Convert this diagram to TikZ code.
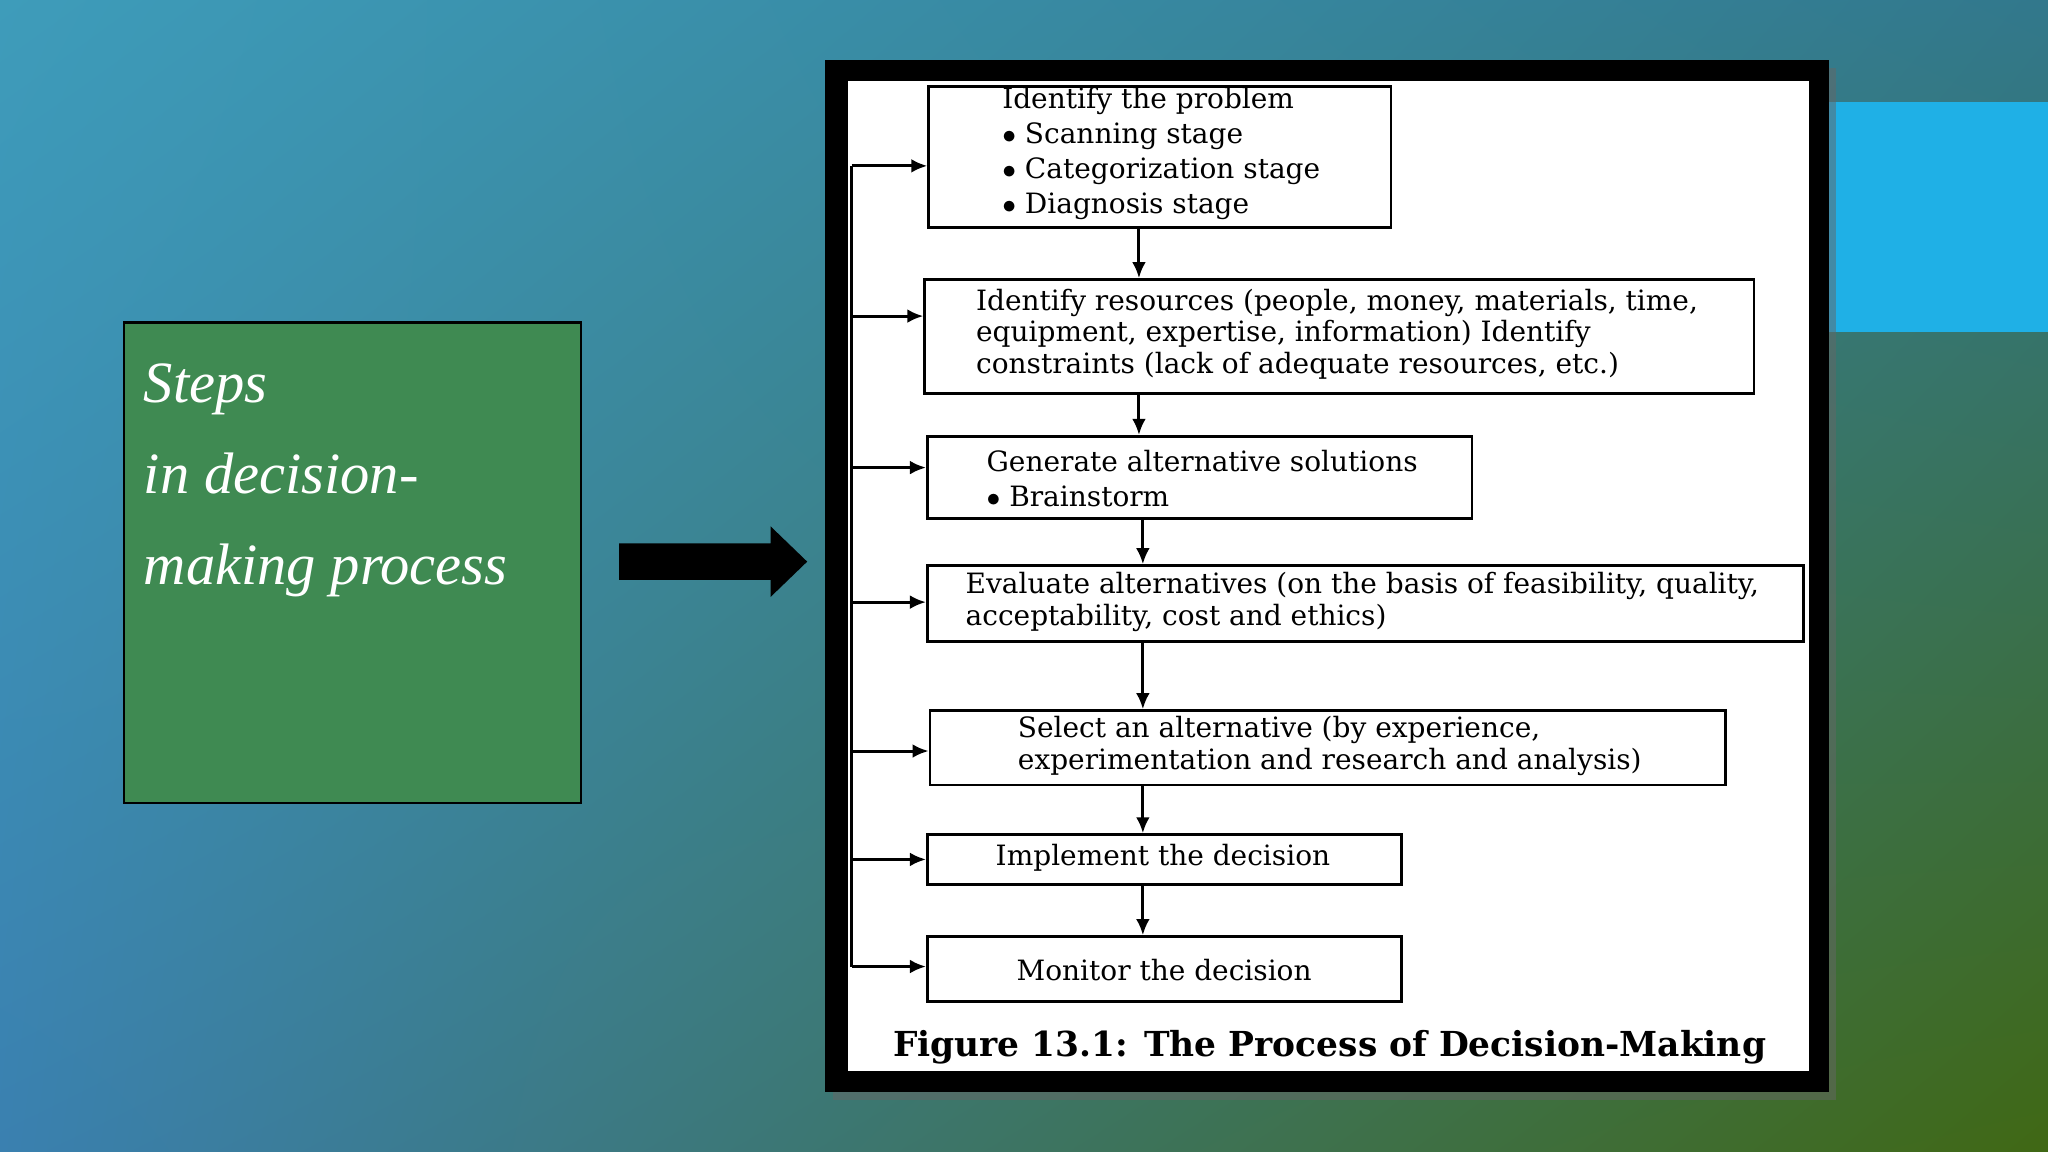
\documentclass[tikz,border=0pt]{standalone}
\usepackage{fontspec}
\setmainfont{DejaVu Serif}
\newfontfamily\stepsfont{Liberation Serif}
\usetikzlibrary{arrows.meta,shadings}
\definecolor{cyanbox}{HTML}{1FB0E6}
\definecolor{gbox}{HTML}{3F8A52}
\definecolor{cul}{RGB}{62,156,186}
\definecolor{cur}{RGB}{50,120,140}
\definecolor{cll}{RGB}{58,128,176}
\definecolor{clr}{RGB}{64,104,20}
\begin{document}
\begin{tikzpicture}[x=0.02cm,y=-0.02cm,
 box/.style={draw=black,line width=1.2pt,fill=white,anchor=north west,inner sep=0pt},
 txt/.style={anchor=west,inner sep=0pt,font=\fontsize{12.2}{14}\selectfont},
 arr/.style={line width=1.3pt,-{Latex[length=7pt,width=6pt]}}]
\useasboundingbox (0,0) rectangle (1568,882);
\shade[upper left=cul,upper right=cur,lower left=cll,lower right=clr] (0,0) rectangle (1568,882);
\fill[cyanbox] (1400,78) rectangle (1568,254);
% left panel
\node[draw=black,line width=1pt,fill=gbox,minimum width=7cm,minimum height=7.36cm,anchor=north west] (gb) at (94,246) {};
\node[anchor=north west,text=white,align=left,font=\stepsfont\fontsize{25.5}{39.7}\selectfont\itshape] (steps) at (104,272) {Steps\\in decision-\\making process};
% big arrow
\fill[black] (474,416) -- (590,416) -- (590,403) -- (618,430) -- (590,457) -- (590,444) -- (474,444) -- cycle;
% frame
\fill[black!60,opacity=0.5] (638,52) rectangle (1406,842);
\fill[black] (632,46) rectangle (1400,836);
\fill[white] (649,62) rectangle (1385,820);
% boxes
\node[box,minimum width=7.08cm,minimum height=2.16cm] (b1) at (710,65) {};
\node[box,minimum width=12.7cm,minimum height=1.74cm] (b2) at (707,213) {};
\node[box,minimum width=8.34cm,minimum height=1.26cm] (b3) at (709,333) {};
\node[box,minimum width=13.42cm,minimum height=1.16cm] (b4) at (709,432) {};
\node[box,minimum width=12.18cm,minimum height=1.14cm] (b5) at (711,543) {};
\node[box,minimum width=7.26cm,minimum height=0.76cm] (b6) at (709,638) {};
\node[box,minimum width=7.26cm,minimum height=1.0cm] (b7) at (709,716) {};
% texts
\node[txt] (t1a) at (767,77) {Identify the problem};
\node[txt] (t1b) at (767,104) {$\bullet$ Scanning stage};
\node[txt] (t1c) at (767,131) {$\bullet$ Categorization stage};
\node[txt] (t1d) at (767,158) {$\bullet$ Diagnosis stage};
\node[txt] (t2a) at (747,232) {Identify resources (people, money, materials, time,};
\node[txt] (t2b) at (747,256) {equipment, expertise, information) Identify};
\node[txt] (t2c) at (747,280) {constraints (lack of adequate resources, etc.)};
\node[txt] (t3a) at (755,353) {Generate alternative solutions};
\node[txt] (t3b) at (755,380) {$\bullet$ Brainstorm};
\node[txt] (t4a) at (739,449) {Evaluate alternatives (on the basis of feasibility, quality,};
\node[txt] (t4b) at (739,473) {acceptability, cost and ethics)};
\node[txt] (t5a) at (779,559) {Select an alternative (by experience,};
\node[txt] (t5b) at (779,583) {experimentation and research and analysis)};
\node[txt] (t6) at (762,657) {Implement the decision};
\node[txt] (t7) at (778,743) {Monitor the decision};
\node[anchor=center,inner sep=0pt,font=\fontsize{15}{17}\selectfont\bfseries] (cap) at (1018,802) {Figure 13.1: The Process of Decision-Making};
% down arrows
\coordinate (ax) at (872,0);
\coordinate (ay) at (875,0);
\draw[arr] (b1.south -| ax) -- (b2.north -| ax);
\draw[arr] (b2.south -| ax) -- (b3.north -| ax);
\draw[arr] (b3.south -| ay) -- (b4.north -| ay);
\draw[arr] (b4.south -| ay) -- (b5.north -| ay);
\draw[arr] (b5.south -| ay) -- (b6.north -| ay);
\draw[arr] (b6.south -| ay) -- (b7.north -| ay);
% feedback line
\coordinate (l1) at (652,127);
\coordinate (l2) at (652,242);
\coordinate (l3) at (652,358);
\coordinate (l4) at (652,461);
\coordinate (l5) at (652,575);
\coordinate (l6) at (652,658);
\coordinate (l7) at (652,740);
\draw[line width=1.3pt] (l1) -- (l7);
\draw[arr] (l1) -- (l1 -| b1.west);
\draw[arr] (l2) -- (l2 -| b2.west);
\draw[arr] (l3) -- (l3 -| b3.west);
\draw[arr] (l4) -- (l4 -| b4.west);
\draw[arr] (l5) -- (l5 -| b5.west);
\draw[arr] (l6) -- (l6 -| b6.west);
\draw[arr] (l7) -- (l7 -| b7.west);
\end{tikzpicture}
\end{document}
